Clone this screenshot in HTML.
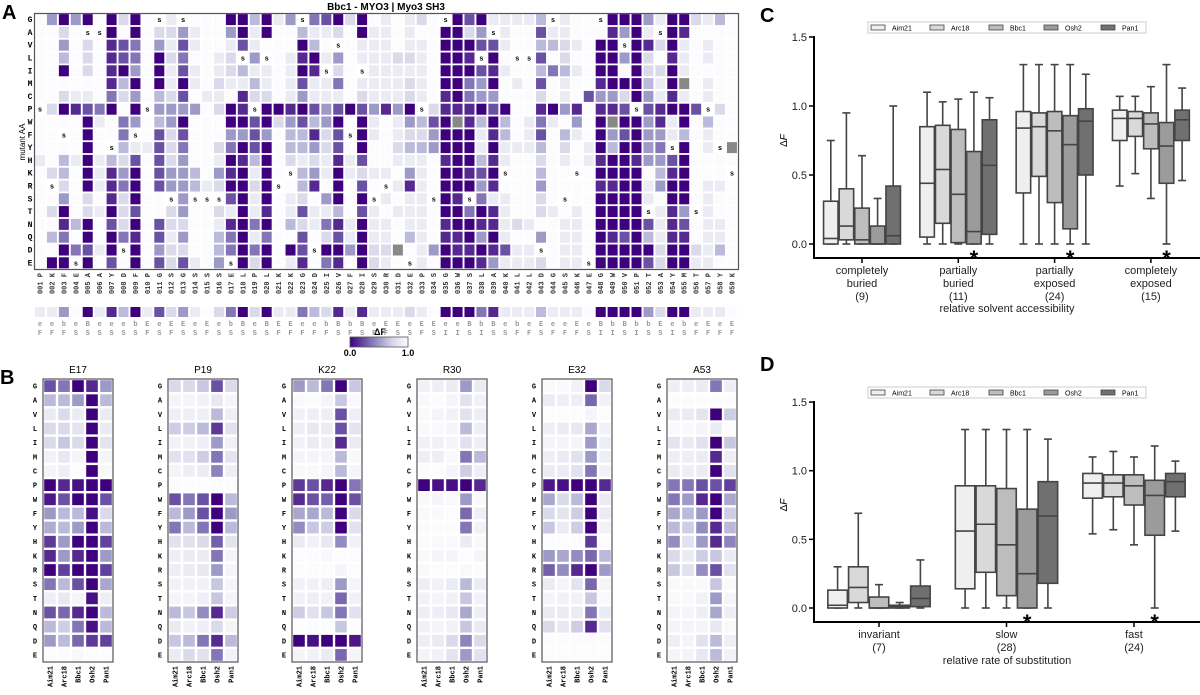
<!DOCTYPE html>
<html><head><meta charset="utf-8"><style>
html,body{margin:0;padding:0;background:#fff;}
svg{display:block;font-family:"Liberation Sans",sans-serif;}
.mono{font-family:"Liberation Mono",monospace;font-weight:bold;}
</style></head><body>
<svg id="fig" width="1200" height="695" viewBox="0 0 1200 695" xmlns="http://www.w3.org/2000/svg">
<defs><linearGradient id="cbg" x1="0" x2="1" y1="0" y2="0"><stop offset="0" stop-color="#3f007d"/><stop offset="0.25" stop-color="#6a51a3"/><stop offset="0.5" stop-color="#9e9ac8"/><stop offset="0.75" stop-color="#dadaeb"/><stop offset="1" stop-color="#fcfbfd"/></linearGradient></defs>
<text x="2" y="19" font-size="20" font-weight="bold">A</text>
<text x="0" y="384" font-size="20" font-weight="bold">B</text>
<text x="760" y="22" font-size="20" font-weight="bold">C</text>
<text x="760" y="371" font-size="20" font-weight="bold">D</text>
<text x="386" y="10" font-size="10" font-weight="bold" text-anchor="middle">Bbc1 - MYO3 | Myo3 SH3</text>
<text transform="translate(25,142) rotate(-90)" font-size="8" text-anchor="middle">mutant AA</text>
<g>
<text x="380" y="335" font-size="9" font-weight="bold" text-anchor="middle">ΔF</text>
<rect x="350" y="337" width="58" height="10" fill="url(#cbg)" stroke="#555" stroke-width="0.8"/>
<text x="350" y="356" font-size="9" font-weight="bold" text-anchor="middle">0.0</text>
<text x="408" y="356" font-size="9" font-weight="bold" text-anchor="middle">1.0</text>
</g>
<g id="gA"></g><g id="gB"></g><g id="gC"></g><g id="gD"></g>
</svg>
<script>
// ---------- Panel A data ----------
const mutantAA = ["G","A","V","L","I","M","C","P","W","F","Y","H","K","R","S","T","N","Q","D","E"];
const wildtype = ["P","K","F","E","A","A","Y","D","F","P","G","S","G","S","S","S","E","L","P","L","K","K","G","D","I","V","F","I","S","R","D","E","P","S","G","W","S","L","A","K","L","L","D","G","S","K","E","G","W","V","P","T","A","Y","M","T","P","Y","K"];
// each string: one position, 20 chars (mutant order above); 0-8 = disruption level, s = synonymous, n = missing
const heatA = [
"0000000s000100000000","4000000200002s020308","824380280s0332487588","4000001700010000305s","8s222016888888228868",
"0s000005100111010010","8877775800s377786886","20668320553245222 5s0".replace(" ",""),"885548484s1688868788","0000000s001000000000",
"s2488834366666006646","12121124422244s22122","s4656864865444442426","01101104000033s00001","00000010000001s00000",
"00011212002142s21334","84122108845878617 55s".replace(" ",""),"886s31778487888888888".slice(0,20),"3114132s666312115152","880s1128848888878588",
"1000000820000s000000","40011117433 2s0113081".replace(" ",""),"s3878648633133262667","51387116374247011 0s0".replace(" ",""),"6101s114422110415285",
"82s42516866788837687","200000080s0110001140","8811s126888626868888","01111114110010s11122","1111111700001s101121",
"000211141121010100n0","1112122842314711130s","2011111s323111111111","00000002644000s00040","s8888877888788887788",
"88888887n88888788778","628785577888 78s58878".replace(" ",""),"846s644831136458 7487".replace(" ",""),"1s687846878787177874","111010083311s0111161",
"100s0100001000002011","100s0000111000001011","363636275632342204s2","s1305008100000010000","11223114032100s01111",
"0010100741 00s0011111".replace(" ",""),"0000006000110000000s","s0888747888787888888","87888847n43887888788","84s40826868888888688",
"8888888s888788888888","417223464444011s6386","1s202117745434011122","8887887811s678877788","87111n18838888846788",
"200000060000000s0021","1011011s311001111111","3000000200s001001130","0000000000n0s0000000"
];
const summaryA = [1,1,4,0,8,1,7,3,8,1,6,2,4,1,0,2,5,8,2,8,1,1,5,3,2,7,1,7,1,1,1,2,1,0,8,8,8,5,7,1,1,1,3,1,1,1,0,8,8,8,8,4,2,8,8,1,1,1,0];
const structRow = "eebeBeeebEeEEeEebBeBEEeebBbBeEEeEEeeBbBebeEeeEeBbBbbEebeEeE";
const accessRow = "FFFSSSSSSFSFSSFSSSSSFFFFFSFSFFSSFSIISISSFFSFFFSIISISSISFFFF";

// ---------- Panel B data ----------
const partners = ["Aim21","Arc18","Bbc1","Osh2","Pan1"];
const bTitles = ["E17","P19","K22","R30","E32","A53"];
const bE17 = [[3,2.5,4,3.5,2],[1.5,1.5,2,4,1.5],[.5,1,.5,4,.5],[1,1,.7,4,.5],[1,1.3,1,4,.7],[.3,.6,.2,4,.2],[.2,.4,0,4,.1],[4,3.5,3.8,4,4],[3.7,3,4,4,3],[2,1.5,1.5,3.8,1],[1.7,1.5,2,4,1.5],[3.3,2,4,4,3.2],[3.5,2,3.5,4,2],[4,3.2,4,4,3.2],[2.5,1.5,3,4,1.8],[.4,.6,.2,3.8,.4],[3,2.7,3.5,4,1.5],[1.5,1.2,2.5,3.8,1.5],[2,1.5,2.7,3.3,3.2],[0,0,.1,0,0]];
const bP19 = [[1,1,1.3,3,1],[.2,.2,.3,.6,.2],[.4,.4,.4,1.5,.4],[1.2,1.2,1.5,3.3,.8],[.3,.3,.4,2,.3],[.8,.8,1.2,2.5,.7],[.2,.4,.5,2.3,.4],[0,0,0,0,0],[3,2.5,3,4,1.5],[1.5,2,3,4,2],[2.5,1.5,2.5,4,1.5],[.8,.8,1,2.8,.7],[.4,.5,.5,2.5,.2],[.4,.5,.6,2,.2],[.3,.3,.3,1.3,.2],[.2,.2,.4,1.3,.2],[1.5,1.3,2.2,3.5,1.2],[.5,.3,.4,1,.2],[1.3,1.5,2.5,3.5,1.5],[.5,1,.8,2.5,.3]];
const bK22 = [[2,1.5,2.5,4,1.3],[.1,0,.2,1.3,.1],[.3,.4,.4,3,.4],[.4,.6,.5,3,.7],[.3,.5,.4,3.5,.5],[.2,.2,.2,1.5,.1],[.1,.1,.2,1.5,.2],[3.3,3,3.5,4,2.5],[3.5,3,2.8,4,3],[1.8,1.8,1.5,4,1],[2.2,1.3,1.2,4,.8],[.5,.3,.6,2.2,.3],[0,0,.1,0,0],[0,0,0,.2,0],[.3,.3,.4,2,.2],[.3,.4,.3,2.7,.3],[1.2,.8,1.3,2.5,.8],[0,0,0,1.3,0],[4,3.8,4,4,3.7],[.2,.3,.5,2.7,.2]];
const bR30 = [[.3,.4,.5,2,.5],[.1,0,.2,.8,.3],[.1,.2,.3,.8,.4],[.1,.1,.2,1.5,.4],[.3,.3,.2,.8,.4],[.4,.4,.1,2.5,1.5],[0,0,.2,1.2,.4],[4,3.8,3.8,4,3.5],[.1,.2,.1,2,.1],[.1,.1,0,2.7,.4],[0,0,0,2.5,.3],[0,.1,.1,.5,.1],[.1,.2,.2,0,.2],[.1,0,0,.1,0],[.4,.3,.5,1.5,.5],[.3,.2,.3,1.3,.3],[.4,.4,.6,1.8,.4],[.3,.2,.3,1.3,.5],[.4,.5,1,2.3,1],[.2,.3,.7,2,.8]];
const bE32 = [[.1,.1,.3,4,1],[.5,.4,.4,2.7,.3],[0,0,0,.2,0],[.4,.5,.6,1.8,.3],[.2,.2,.2,2,.4],[.4,.5,.8,2,.4],[.5,.5,.8,2.5,.3],[3.7,3.8,4,4,3.5],[1.8,1,1.5,4,.5],[1,.7,1.2,4,.5],[1.3,.5,1.2,4,.3],[0,0,0,3.3,0],[2,1.8,2.2,2.7,1.5],[2.8,2.2,3.5,4,2],[.5,.2,.7,2.7,.2],[.2,.3,.3,1.3,.1],[.5,.5,.5,2.5,.5],[1,.6,1.2,3.5,.8],[0,0,0,0,0],[0,0,0,0,0]];
const bA53 = [[.4,.4,.5,2.5,.4],[0,0,0,0,0],[.5,.5,.7,4,1.2],[.1,.1,.2,.5,0],[.7,.5,.8,4,1.3],[.4,.4,.5,3.5,.4],[.5,.4,.5,4,.8],[2.5,2.5,3,3,3.2],[2.5,2,3.5,4,1.8],[1.8,1.5,2,4,1.2],[1.5,1.2,2.2,3.5,1.5],[2.2,.8,2,3.5,2.3],[1,.5,1.2,1.3,.5],[1.3,.8,2.2,3,.8],[.1,.1,.1,1.3,.1],[.1,.1,.3,2,.2],[.2,.2,.4,1.8,.4],[.2,.2,.2,.6,.1],[.4,.2,.8,1.5,.4],[.2,.2,.6,1.5,.3]];

// ---------- Panel C/D data: [whiskerLow, q1, median, q3, whiskerHigh] ----------
const cCats = [["completely","buried","(9)"],["partially","buried","(11)"],["partially","exposed","(24)"],["completely","exposed","(15)"]];
const cAim21 = [[0,0,.04,.31,.75],[0,.05,.44,.85,1.10],[0,.37,.84,.96,1.30],[.42,.75,.91,.97,1.07]];
const cArc18 = [[0,.03,.13,.40,.95],[0,.15,.54,.86,1.03],[0,.49,.85,.95,1.30],[.51,.78,.91,.96,1.07]];
const cBbc1  = [[0,0,.03,.26,.64],[0,.01,.36,.83,1.05],[0,.30,.82,.96,1.30],[.33,.69,.87,.95,1.14]];
const cOsh2  = [[0,0,0,.13,.33],[0,0,.09,.67,1.10],[0,.11,.72,.93,1.30],[0,.44,.71,.88,1.30]];
const cPan1  = [[0,0,.06,.42,1.0],[0,.07,.57,.90,1.06],[0,.50,.89,.98,1.23],[.46,.75,.90,.97,1.13]];
const cStars = [false,true,true,true];
const dCats = [["invariant","(7)"],["slow","(28)"],["fast","(24)"]];
const dAim21 = [[0,0,.02,.13,.30],[0,.14,.56,.89,1.30],[.54,.80,.91,.98,1.10]];
const dArc18 = [[0,.04,.15,.30,.69],[0,.26,.61,.89,1.30],[.57,.81,.91,.97,1.14]];
const dBbc1  = [[0,0,0,.08,.17],[0,.09,.46,.87,1.30],[.46,.75,.89,.97,1.10]];
const dOsh2  = [[0,0,.01,.02,.04],[0,0,.25,.72,1.30],[0,.53,.82,.93,1.18]];
const dPan1  = [[0,.01,.07,.16,.35],[0,.18,.67,.92,1.23],[.56,.81,.92,.98,1.07]];
const dStars = [false,true,true];
const yTicks = [0,0.5,1.0,1.5];
const yTickLabels = ["0.0","0.5","1.0","1.5"];

const NS="http://www.w3.org/2000/svg";
function mk(parent,tag,attrs,txt){const e=document.createElementNS(NS,tag);for(const k in attrs)e.setAttribute(k,attrs[k]);if(txt!==undefined)e.textContent=txt;parent.appendChild(e);return e;}
const stops=[[252,251,253],[218,218,235],[158,154,200],[106,81,163],[63,0,125]];
function purple(t){t=Math.max(0,Math.min(1,t));const p=t*4,i=Math.min(3,Math.floor(p)),f=p-i;const a=stops[i],b=stops[i+1];return `rgb(${Math.round(a[0]+(b[0]-a[0])*f)},${Math.round(a[1]+(b[1]-a[1])*f)},${Math.round(a[2]+(b[2]-a[2])*f)})`;}

// ---------- Panel A ----------
const gA=document.getElementById('gA');
const axA={x0:40,dx:11.93,y0:19.6,dy:12.8,cw:10,ch:11};
const colX=i=>axA.x0+i*axA.dx, rowY=j=>axA.y0+j*axA.dy;
mutantAA.forEach((aa,j)=>{
  const t=mk(gA,'text',{x:30,y:rowY(j)+2.5,'font-size':8,'text-anchor':'middle',class:'mono'},aa);
  
  
});
heatA.forEach((col,i)=>{
  for(let j=0;j<20;j++){
    const c=col[j];
    const r=mk(gA,'rect',{x:colX(i)-axA.cw/2,y:rowY(j)-axA.ch/2,width:axA.cw,height:axA.ch});
    
    
    if(c==='n'){r.setAttribute('fill','#888');}
    else if(c==='s'){r.setAttribute('fill','#fff');
      const s=mk(gA,'text',{x:colX(i),y:rowY(j)+2.5,'font-size':7,'text-anchor':'middle',class:'mono'},'s');
      
      }
    else r.setAttribute('fill',purple(+c/8));
  }
  const lbl=String(i+1).padStart(3,'0')+' '+wildtype[i];
  const t=mk(gA,'text',{transform:`translate(${colX(i)+2.5},273) rotate(-90)`,'font-size':7,'text-anchor':'end',class:'mono',fill:'#333'},lbl);
  
  
  const sr=mk(gA,'rect',{x:colX(i)-axA.cw/2,y:307,width:axA.cw,height:10,fill:purple(summaryA[i]/8)});
  
  
  const a=mk(gA,'text',{x:colX(i),y:326,'font-size':7,'text-anchor':'middle',class:'mono',fill:'#999'},structRow[i]);
  
  
  const b=mk(gA,'text',{x:colX(i),y:335,'font-size':7,'text-anchor':'middle',class:'mono',fill:'#999'},accessRow[i]);
  
  
});
const fA=mk(gA,'rect',{x:34.5,y:13.5,width:704,height:256,fill:'none',stroke:'#555','stroke-width':1.2});



// ---------- Panel B ----------
const gB=document.getElementById('gB');
const bData=[bE17,bP19,bK22,bR30,bE32,bA53];
const bLeft=[43,168,292,417,542,667];
const bTop=379,bW=70,bH=283;
bData.forEach((m,k)=>{
  const L=bLeft[k],cw=bW/5,rh=bH/20;
  const g=mk(gB,'g',{});
  
  
  const tt=mk(g,'text',{x:L+bW/2,y:373,'font-size':10,'text-anchor':'middle'},bTitles[k]);
  
  
  m.forEach((row,j)=>{
    const rl=mk(g,'text',{x:L-8,y:bTop+(j+0.5)*rh+2.5,'font-size':7,'text-anchor':'middle',class:'mono'},mutantAA[j]);
    
    
    row.forEach((v,i)=>{
      const r=mk(g,'rect',{x:L+i*cw+1.2,y:bTop+j*rh+1.2,width:cw-2.4,height:rh-2.4,fill:purple(v/4)});
      
      
    });
  });
  partners.forEach((p,i)=>{
    const t=mk(g,'text',{transform:`translate(${L+(i+0.5)*cw+2.5},666) rotate(-90)`,'font-size':7,'text-anchor':'end',class:'mono'},p);
    
    
  });
  const fr=mk(g,'rect',{x:L,y:bTop,width:bW,height:bH,fill:'none',stroke:'#555','stroke-width':1.2});
  
  
});

// ---------- Box plots ----------
const fills=["#efefef","#d9d9d9","#bdbdbd","#9b9b9b","#707070"];
function boxPanel(gid,o){
  const g=document.getElementById(gid);
  const y=v=>o.y0-v*o.k;
  const series=o.series;
  const ya=mk(g,'line',{x1:o.ax,x2:o.ax,y1:y(1.5)-1,y2:o.xAxisY,stroke:'#000','stroke-width':2});
  
  
  const xa=mk(g,'line',{x1:o.ax-1,x2:1200,y1:o.xAxisY,y2:o.xAxisY,stroke:'#000','stroke-width':2});
  
  
  yTicks.forEach((v,i)=>{
    mk(g,'line',{x1:o.ax-5,x2:o.ax,y1:y(v),y2:y(v),stroke:'#000','stroke-width':1.5});
    const t=mk(g,'text',{x:o.ax-7,y:y(v)+4,'font-size':11,'text-anchor':'end',fill:'#222'},yTickLabels[i]);
    
    
  });
  const yl=mk(g,'text',{transform:`translate(${o.ax-27},${y(0.75)}) rotate(-90)`,'font-size':10,'text-anchor':'middle'},'');
  
  
  yl.innerHTML='Δ<tspan font-style="italic">F</tspan>';
  o.cats.forEach((lines,gi)=>{
    const cx=o.gx0+gi*o.gdx;
    mk(g,'line',{x1:cx,x2:cx,y1:o.xAxisY,y2:o.xAxisY+5,stroke:'#000','stroke-width':1.5});
    lines.forEach((ln,li)=>{
      const t=mk(g,'text',{x:cx,y:o.catY+li*13,'font-size':11,'text-anchor':'middle',fill:'#222'},ln);
      
      
    });
    series.forEach((s,si)=>{
      const d=s[gi];const bx=cx+(si-2)*o.step;const hw=o.bw/2;
      const bg=mk(g,'g',{stroke:'#444','stroke-width':1.6});
      
      
      mk(bg,'line',{x1:bx,x2:bx,y1:y(d[0]),y2:y(d[4])});
      mk(bg,'line',{x1:bx-4,x2:bx+4,y1:y(d[0]),y2:y(d[0])});
      mk(bg,'line',{x1:bx-4,x2:bx+4,y1:y(d[4]),y2:y(d[4])});
      mk(bg,'rect',{x:bx-hw,y:y(d[3]),width:o.bw,height:Math.max(0.5,y(d[1])-y(d[3])),fill:fills[si]});
      mk(bg,'line',{x1:bx-hw,x2:bx+hw,y1:y(d[2]),y2:y(d[2])});
    });
    if(o.stars[gi]){
      const st=mk(g,'text',{x:o.gx0+gi*o.gdx+o.step,y:o.starY,'font-size':22,'font-weight':'bold','text-anchor':'middle'},'*');
      
      
    }
  });
  const tl=mk(g,'text',{x:1007,y:o.titleY,'font-size':11,'text-anchor':'middle',fill:'#222'},o.title);
  
  
  const lg=mk(g,'g',{});
  
  
  mk(lg,'rect',{x:868,y:o.legY,width:278,height:11,fill:'#fff',stroke:'#ccc','stroke-width':1});
  const lx=[871,930,989,1044,1101];
  partners.forEach((p,i)=>{
    const sw=mk(lg,'rect',{x:lx[i],y:o.legY+3,width:14,height:5,fill:fills[i],stroke:'#444','stroke-width':0.8});
    
    
    const t=mk(lg,'text',{x:lx[i]+21,y:o.legY+8.5,'font-size':7},p);
    
    
  });
}
boxPanel('gC',{series:[cAim21,cArc18,cBbc1,cOsh2,cPan1],cats:cCats,stars:cStars,ax:814,y0:244,k:138,xAxisY:258,gx0:862,gdx:96.3,step:15.6,bw:14.5,catY:274,starY:266,title:'relative solvent accessibility',titleY:312,legY:22});
boxPanel('gD',{series:[dAim21,dArc18,dBbc1,dOsh2,dPan1],cats:dCats,stars:dStars,ax:814,y0:608,k:137.3,xAxisY:622,gx0:879,gdx:127.5,step:20.7,bw:19.5,catY:638,starY:630,title:'relative rate of substitution',titleY:664,legY:387});
</script>
</body></html>
